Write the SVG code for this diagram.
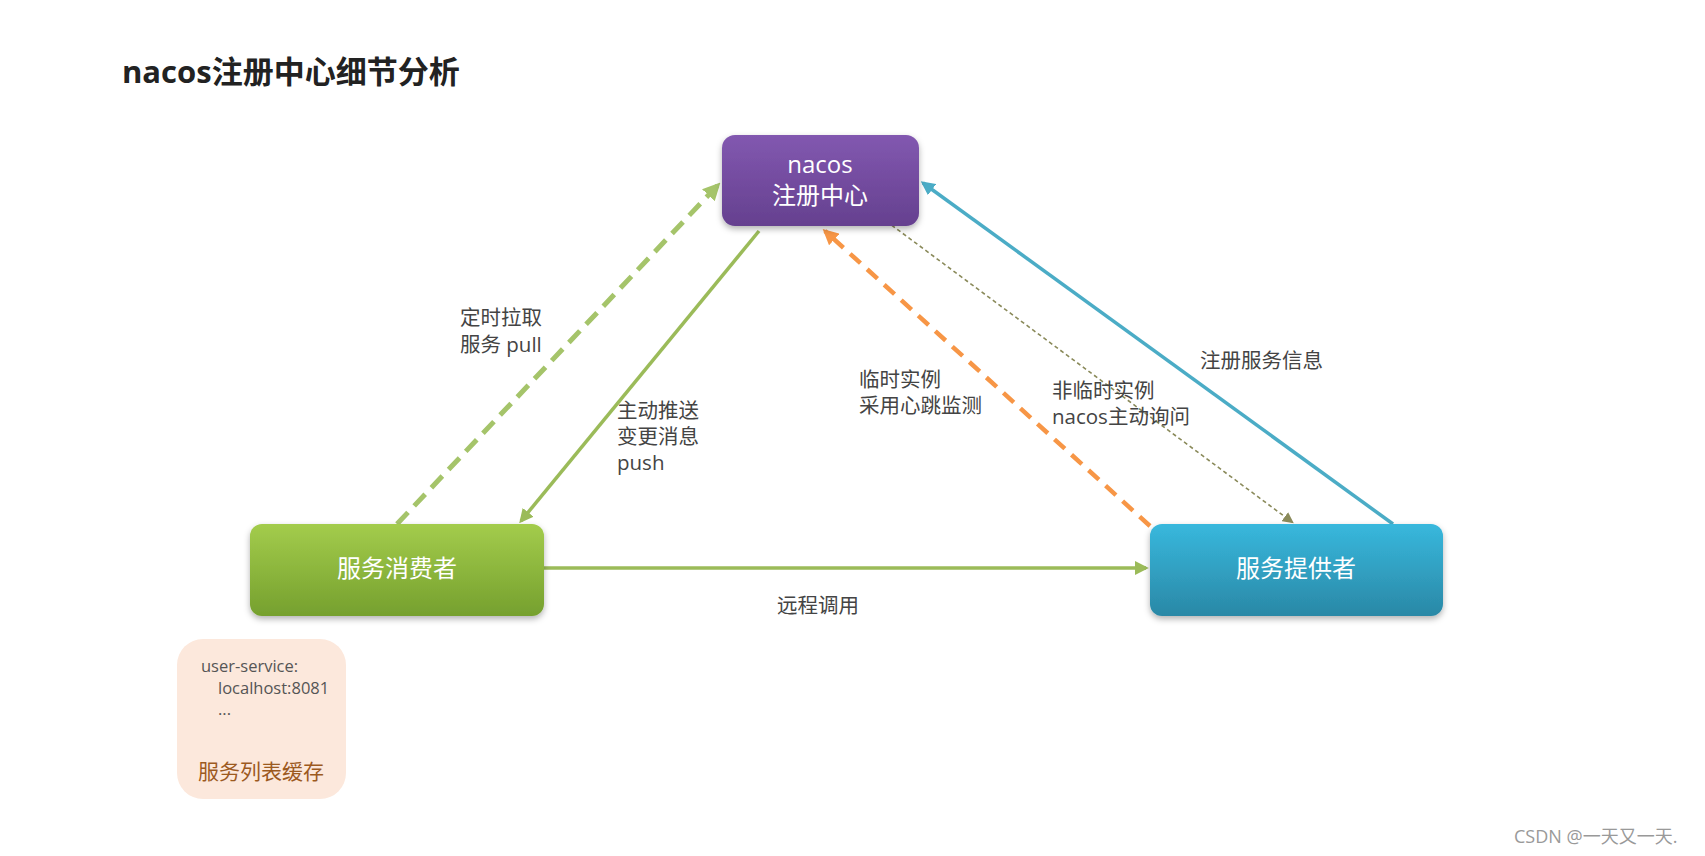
<svg xmlns="http://www.w3.org/2000/svg" width="1705" height="856" viewBox="0 0 1705 856">
<style>
text{font-family:"Open Sans","Noto Sans CJK SC",sans-serif}
.lbl{font-size:20.5px;fill:#444}
.node{font-size:24px;fill:#fff;text-anchor:middle}
.c{font-size:16.5px;fill:#555}
</style>
<defs>
<linearGradient id="gp" x1="0" y1="0" x2="0" y2="1"><stop offset="0" stop-color="#8258b0"/><stop offset="1" stop-color="#65408f"/></linearGradient>
<linearGradient id="gg" x1="0" y1="0" x2="0" y2="1"><stop offset="0" stop-color="#a3cc4c"/><stop offset="1" stop-color="#75a02e"/></linearGradient>
<linearGradient id="gb" x1="0" y1="0" x2="0" y2="1"><stop offset="0" stop-color="#38b8dd"/><stop offset="1" stop-color="#2a88a6"/></linearGradient>
<filter id="sh" x="-10%" y="-10%" width="120%" height="130%"><feDropShadow dx="0" dy="3" stdDeviation="3" flood-color="#000" flood-opacity="0.3"/></filter>
<marker id="ag" viewBox="0 0 10 10" refX="8" refY="5" markerWidth="4" markerHeight="4" orient="auto"><path d="M0,0L10,5L0,10z" fill="#9bbb59"/></marker>
<marker id="agl" viewBox="0 0 10 10" refX="8" refY="5" markerWidth="3.5" markerHeight="3.5" orient="auto"><path d="M0,0L10,5L0,10z" fill="#a5c46a"/></marker>
<marker id="ao" viewBox="0 0 10 10" refX="8" refY="5" markerWidth="3.5" markerHeight="3.5" orient="auto"><path d="M0,0L10,5L0,10z" fill="#f79646"/></marker>
<marker id="ab" viewBox="0 0 10 10" refX="8" refY="5" markerWidth="4" markerHeight="4" orient="auto"><path d="M0,0L10,5L0,10z" fill="#4bacc6"/></marker>
<marker id="ay" viewBox="0 0 10 10" refX="8" refY="5" markerWidth="7" markerHeight="7" orient="auto"><path d="M0,0L10,5L0,10z" fill="#8a8a5a"/></marker>
</defs>
<rect width="1705" height="856" fill="#fff"/>
<text x="122" y="83" font-size="31" font-weight="bold" fill="#222">nacos注册中心细节分析</text>
<g id="connectors" fill="none">
<line x1="397" y1="524" x2="718" y2="185" stroke="#a5c46a" stroke-width="5" stroke-dasharray="16,9" marker-end="url(#agl)"/>
<line x1="759" y1="231" x2="521" y2="521" stroke="#9bbb59" stroke-width="3.5" marker-end="url(#ag)"/>
<line x1="544" y1="568" x2="1146" y2="568" stroke="#9bbb59" stroke-width="3.5" marker-end="url(#ag)"/>
<line x1="1150" y1="526" x2="825" y2="231" stroke="#f79646" stroke-width="4.5" stroke-dasharray="14,9" marker-end="url(#ao)"/>
<line x1="886" y1="221" x2="1292" y2="522" stroke="#8a8a5a" stroke-width="1.6" stroke-dasharray="4,3" marker-end="url(#ay)"/>
<line x1="1393" y1="524" x2="923" y2="183" stroke="#4bacc6" stroke-width="3.5" marker-end="url(#ab)"/>
</g>
<g id="nacos"><rect x="722" y="135" width="197" height="91" rx="13" fill="url(#gp)" filter="url(#sh)"/>
<text class="node" x="820" y="173" font-size="21">nacos</text><text class="node" x="820" y="204">注册中心</text></g>
<g id="consumer"><rect x="250" y="524" width="294" height="92" rx="12" fill="url(#gg)" filter="url(#sh)"/>
<text class="node" x="397" y="577">服务消费者</text></g>
<g id="provider"><rect x="1150" y="524" width="293" height="92" rx="12" fill="url(#gb)" filter="url(#sh)"/>
<text class="node" x="1296" y="577">服务提供者</text></g>
<g id="cache"><rect x="177" y="639" width="169" height="160" rx="26" fill="#fce8dc"/>
<text class="c" x="201" y="672">user-service:</text>
<text class="c" x="218" y="694">localhost:8081</text>
<text class="c" x="218" y="715">...</text>
<text x="198" y="779" font-size="21" fill="#9c5a1f">服务列表缓存</text></g>
<g id="labels">
<text class="lbl" x="460" y="325">定时拉取</text><text class="lbl" x="460" y="352">服务 pull</text>
<text class="lbl" x="617" y="418">主动推送</text><text class="lbl" x="617" y="444">变更消息</text><text class="lbl" x="617" y="470">push</text>
<text class="lbl" x="859" y="387">临时实例</text><text class="lbl" x="859" y="413">采用心跳监测</text>
<text class="lbl" x="1052" y="398">非临时实例</text><text class="lbl" x="1052" y="424">nacos主动询问</text>
<text class="lbl" x="1200" y="368">注册服务信息</text>
<text class="lbl" x="777" y="613">远程调用</text>
<text x="1514" y="843" font-size="18" fill="#999">CSDN @一天又一天.</text>
</g>
</svg>
